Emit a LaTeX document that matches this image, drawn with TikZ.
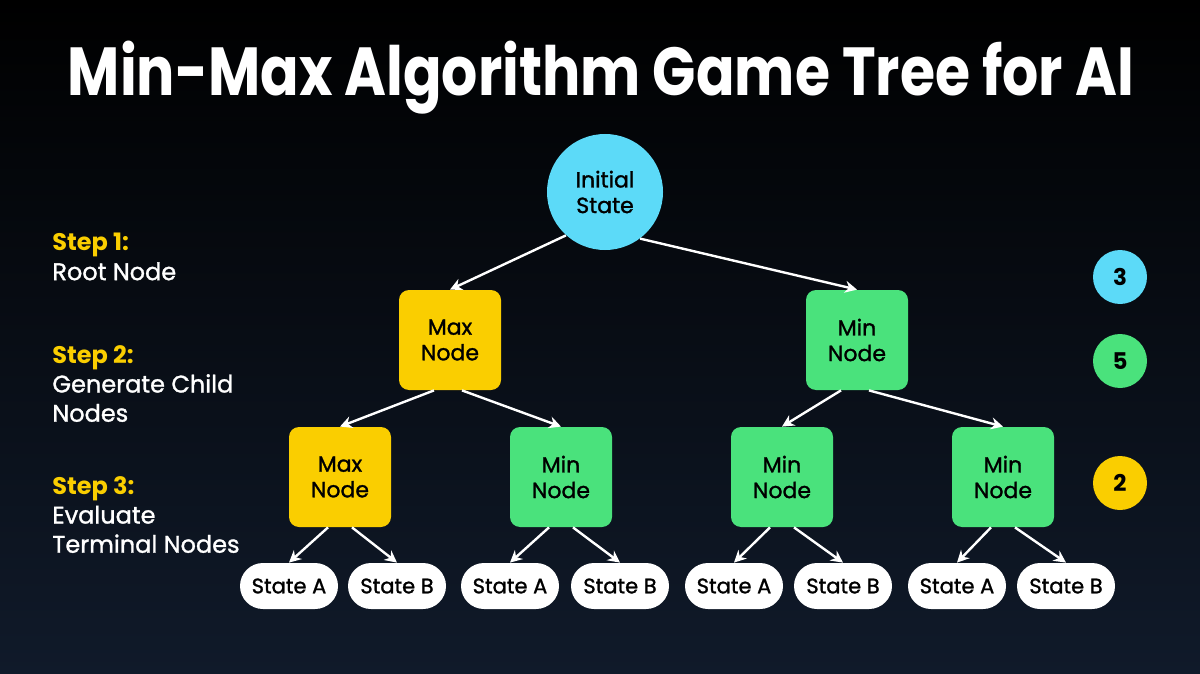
\documentclass[tikz,border=0pt]{standalone}
\usepackage{fontspec}
\setmainfont{Poppins}[FakeBold=1.3, BoldFeatures={FakeBold=0}]
\usetikzlibrary{arrows.meta}
\definecolor{bgtop}{RGB}{0,0,0}
\definecolor{bgbot}{RGB}{16,26,42}
\definecolor{cyanc}{RGB}{92,218,248}
\definecolor{yellowc}{RGB}{250,206,0}
\definecolor{greenc}{RGB}{74,226,124}
\definecolor{leafc}{RGB}{255,255,255}
\definecolor{stepc}{RGB}{250,206,0}
\tikzset{
  boxnode/.style={rounded corners=5pt, minimum width=51pt, minimum height=50pt, align=center, font=\fontsize{11}{12.8}\selectfont, text=black, inner sep=0pt},
  maxbox/.style={boxnode, fill=yellowc},
  minbox/.style={boxnode, fill=greenc},
  leaf/.style={fill=leafc, rounded corners=11.5pt, minimum width=49pt, minimum height=23pt, font=\fontsize{10.5}{12}\selectfont, text=black, inner sep=0pt},
  rootc/.style={circle, fill=cyanc, minimum size=58pt, align=center, font=\fontsize{11}{12.8}\selectfont, text=black, inner sep=0pt},
  valc/.style={circle, minimum size=27pt, font=\bfseries\fontsize{11.5}{12}\selectfont, text=black, inner sep=0pt},
  edge/.style={draw=white, line width=1.2pt, -{Stealth[length=6pt,width=6pt]}},
  steptxt/.style={anchor=north west, align=left, font=\fontsize{12}{14.6}\selectfont, text=white, inner sep=0pt},
}
\begin{document}
\begin{tikzpicture}[x=0.5pt,y=-0.5pt]
\shade[top color=bgtop, bottom color=bgbot] (0,0) rectangle (1200,674);
\useasboundingbox (0,0) rectangle (1200,674);
\node[text=white, font=\bfseries\fontsize{34}{36}\selectfont, inner sep=0pt] (title) at (601,78) {\resizebox{533pt}{\height}{Min-Max Algorithm Game Tree for AI}};

\node[rootc] (root) at (605,192) {Initial\\State};
\node[maxbox] (l1a) at (450,340) {Max\\Node};
\node[minbox] (l1b) at (857,340) {Min\\Node};
\node[maxbox] (l2a) at (340,477) {Max\\Node};
\node[minbox] (l2b) at (561,477) {Min\\Node};
\node[minbox] (l2c) at (782,477) {Min\\Node};
\node[minbox] (l2d) at (1003,477) {Min\\Node};

\node[leaf] (s1) at (289,586) {State A};
\node[leaf] (s2) at (397,586) {State B};
\node[leaf] (s3) at (510,586) {State A};
\node[leaf] (s4) at (620,586) {State B};
\node[leaf] (s5) at (734,586) {State A};
\node[leaf] (s6) at (843,586) {State B};
\node[leaf] (s7) at (957,586) {State A};
\node[leaf] (s8) at (1066,586) {State B};

\draw[edge] (root.228) -- (l1a.north);
\draw[edge] (root.-53) -- (l1b.north);
\draw[edge] ([xshift=-8pt]l1a.south) -- (l2a.north);
\draw[edge] ([xshift=6pt]l1a.south) -- (l2b.north);
\draw[edge] ([xshift=-8pt]l1b.south) -- (l2c.north);
\draw[edge] ([xshift=6pt]l1b.south) -- (l2d.north);
\foreach \p/\a/\b in {l2a/s1/s2, l2b/s3/s4, l2c/s5/s6, l2d/s7/s8}{
  \draw[edge] ([xshift=-6pt]\p.south) -- (\a.north);
  \draw[edge] ([xshift=6pt]\p.south) -- (\b.north);
}

\node[steptxt] (st1) at (52,233) {\textcolor{stepc}{\bfseries Step 1:}\\Root Node};
\node[steptxt] (st2) at (52,345) {\textcolor{stepc}{\bfseries Step 2:}\\Generate Child\\Nodes};
\node[steptxt] (st3) at (52,476) {\textcolor{stepc}{\bfseries Step 3:}\\Evaluate\\Terminal Nodes};

\node[valc, fill=cyanc] (v3) at (1120,277) {3};
\node[valc, fill=greenc] (v5) at (1120,361) {5};
\node[valc, fill=yellowc] (v2) at (1120,483) {2};
\end{tikzpicture}
\end{document}
